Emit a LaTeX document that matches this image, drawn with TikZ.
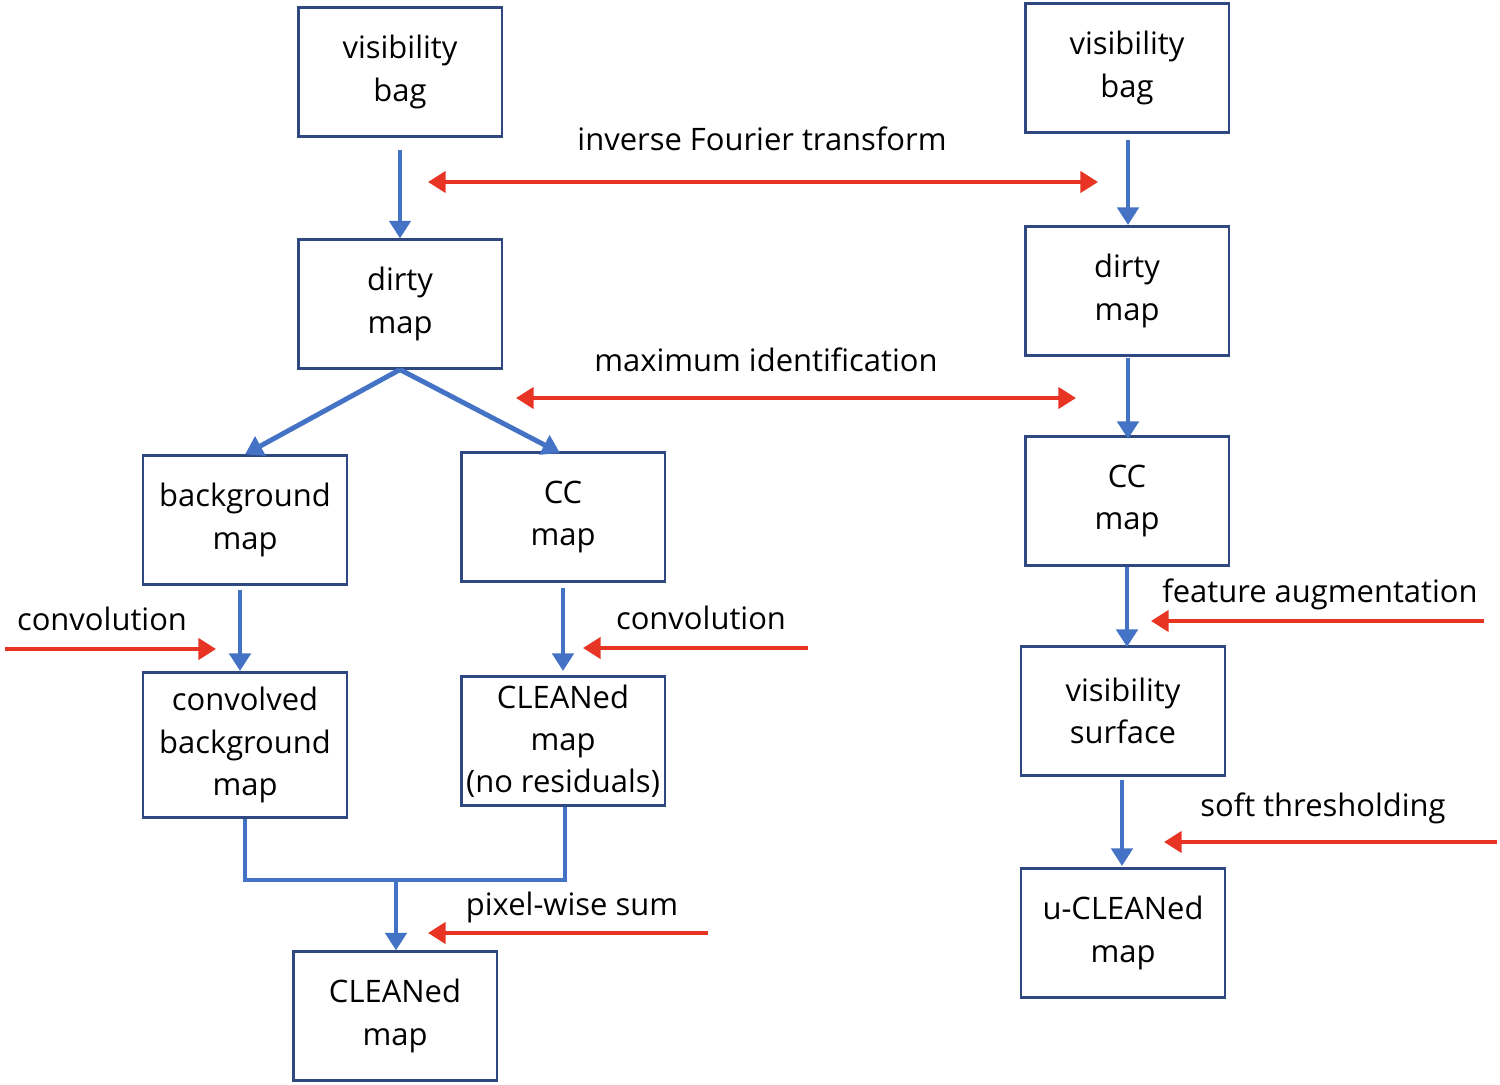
\documentclass[tikz,border=0pt]{standalone}
\usepackage{fontspec}
\setmainfont{Open Sans}
\usetikzlibrary{arrows.meta}
\definecolor{bl}{RGB}{68,114,196}
\definecolor{rd}{RGB}{232,52,35}
\definecolor{bd}{RGB}{47,72,130}
\begin{document}
\begin{tikzpicture}[x=0.01cm,y=-0.01cm,
 box/.style={draw=bd,line width=0.6pt,minimum width=2.03cm,minimum height=1.29cm,align=center,font=\fontsize{8.8}{12}\selectfont,inner sep=1pt},
 lab/.style={font=\fontsize{8.8}{12}\selectfont},
 ba/.style={draw=bl,line width=1.4pt,-{Triangle[length=5pt,width=6pt]}},
 rl/.style={draw=rd,line width=1.1pt},
 ra/.style={rl,-{Triangle[length=5pt,width=6pt]}},
 rr/.style={rl,{Triangle[length=5pt,width=6pt]}-{Triangle[length=5pt,width=6pt]}}]
\useasboundingbox (0,0) rectangle (1500,1085);
\node[box] (vb1) at (400,72) {visibility\\bag};
\node[box] (dm1) at (400,304) {dirty\\map};
\node[box] (bg) at (245,520) {background\\map};
\node[box] (cc1) at (563,517) {CC\\map};
\node[box,minimum height=1.45cm] (cbg) at (245,745) {convolved\\background\\map};
\node[box,inner sep=0pt] (cln) at (563,741) {CLEANed\\map\\(no residuals)};
\node[box] (cl) at (395,1016) {CLEANed\\map};
\node[box] (vb2) at (1127,68) {visibility\\bag};
\node[box] (dm2) at (1127,291) {dirty\\map};
\node[box] (cc2) at (1127,501) {CC\\map};
\node[box,minimum width=2.04cm] (vs) at (1123,711) {visibility\\surface};
\node[box,minimum width=2.04cm] (uc) at (1123,933) {u-CLEANed\\map};
% blue
\draw[ba] (400,150) -- (dm1.north);
\draw[ba] (dm1.south) -- (bg.north);
\draw[ba] (dm1.south) -- (560,453);
\draw[ba] (240,590) -- (240,671);
\draw[ba] (563,588) -- (563,671);
\coordinate (m) at (396,880);
\draw[bl,line width=1.4pt] (cbg.south) -- (245,880) -- (565,880) -- (cln.south -| 565,0);
\draw[ba] (m) -- (cl.north -| m);
\draw[ba] (1128,140) -- (1128,225);
\draw[ba] (1128,358) -- (1128,439);
\draw[ba] (1127,567) -- (1127,647);
\draw[ba] (1122,780) -- (1122,866);
% red
\coordinate (r1a) at (428,182); \coordinate (r1b) at (1098,182);
\coordinate (r2a) at (516,398); \coordinate (r2b) at (1076,398);
\draw[rr] (r1a) -- (r1b);
\draw[rr] (r2a) -- (r2b);
\coordinate (c1a) at (5,649); \coordinate (c1b) at (216,649);
\coordinate (c2a) at (808,648); \coordinate (c2b) at (583,648);
\coordinate (fa) at (1484,621); \coordinate (fb) at (1151,621);
\coordinate (sa) at (1497,842); \coordinate (sb) at (1164,842);
\coordinate (pa) at (708,933); \coordinate (pb) at (428,933);
\draw[ra] (c1a) -- (c1b);
\draw[ra] (c2a) -- (c2b);
\draw[ra] (fa) -- (fb);
\draw[ra] (sa) -- (sb);
\draw[ra] (pa) -- (pb);
% labels
\node[lab] (l1) at (762,139) {inverse Fourier transform};
\node[lab] (l2) at (766,360) {maximum identification};
\node[lab] (l3) at (102,619) {convolution};
\node[lab] (l4) at (701,618) {convolution};
\node[lab] (l5) at (1320,594) {feature augmentation};
\node[lab] (l6) at (1323,808) {soft thresholding};
\node[lab] (l7) at (572,907) {pixel-wise sum};
\end{tikzpicture}
\end{document}
